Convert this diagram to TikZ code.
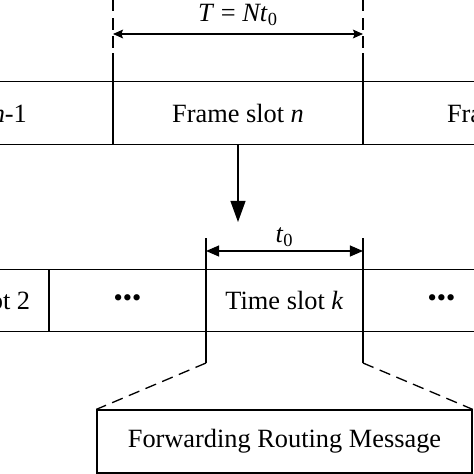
\documentclass[tikz,border=0pt]{standalone}
\usepackage{fontspec}
\setmainfont{Liberation Serif}
\usetikzlibrary{arrows.meta, positioning}

\begin{document}
\begin{tikzpicture}[
    x=0.02cm, y=-0.02cm,
    every node/.style={align=center, font=\fontsize{15}{18}\selectfont},
    cell/.style={draw, line width=0.75pt, minimum height=1.25cm, inner sep=0pt, outer sep=0pt},
    frame/.style={cell, minimum width=5cm},
    tslot/.style={cell, minimum width=3.14cm},
    ln/.style={line width=0.75pt},
    arr/.style={-{Triangle[length=12pt, width=8.5pt]}, ln},
    dimT/.style={{Stealth[length=5.7pt, width=5pt, inset=1pt]}-{Stealth[length=5.7pt, width=5pt, inset=1pt]}, ln},
    dimt/.style={{Triangle[length=7.4pt, width=6.2pt]}-{Triangle[length=7.4pt, width=6.2pt]}, ln},
    guide/.style={ln, dash pattern=on 6.5pt off 3.8pt}
  ]
  \clip (0,0) rectangle (474,474);
  % frame slots
  \node[frame] (fn) at (238,113) {Frame slot \textit{n}};
  \node[frame, minimum width=6.52cm, left=0pt of fn] (fprev) {Frame slot \textit{n}-1};
  \node[frame, minimum width=6.56cm, right=0pt of fn] (fnext) {Frame slot \textit{n}+1};
  % time slots
  \node[tslot] (tk) at (284.5,300.5) {Time slot \textit{k}};
  \node[tslot, left=0pt of tk] (tdotsa) {•••};
  \node[tslot, left=0pt of tdotsa] (ttwo) {Time slot 2};
  \node[tslot, right=0pt of tk] (tdotsb) {•••};
  % message box
  \node[draw, ln, minimum width=7.5cm, minimum height=1.26cm] (msg) at (284.5,441.5) {Forwarding Routing Message};

  % T = N t0
  \coordinate (gl) at (fn.north west |- 0,53);
  \coordinate (gr) at (fn.north east |- 0,53);
  \draw[guide] (fn.north west |- 0,0) -- (gl);
  \draw[guide] (fn.north east |- 0,0) -- (gr);
  \draw[ln] (gl) -- (fn.north west);
  \draw[ln] (gr) -- (fn.north east);
  \draw[dimT] (fn.north west |- 0,34) -- (fn.north east |- 0,34)
    node[midway, above=1pt] {\textit{T} = \textit{Nt}\textsubscript{0}};

  \draw[arr] (fn.south) -- (fn.south |- 0,222);

  % t0
  \draw[ln] (tk.north west) -- (tk.north west |- 0,238);
  \draw[ln] (tk.north east) -- (tk.north east |- 0,238);
  \draw[dimt] (tk.north west |- 0,251) -- (tk.north east |- 0,251)
    node[midway, above=-1pt] {\textit{t}\textsubscript{0}};

  % zoom to message
  \coordinate (zl) at (tk.south west |- 0,363);
  \coordinate (zr) at (tk.south east |- 0,363);
  \draw[ln] (tk.south west) -- (zl);
  \draw[ln] (tk.south east) -- (zr);
  \draw[guide] (zl) -- (msg.north west);
  \draw[guide] (zr) -- (msg.north east);
\end{tikzpicture}
\end{document}
